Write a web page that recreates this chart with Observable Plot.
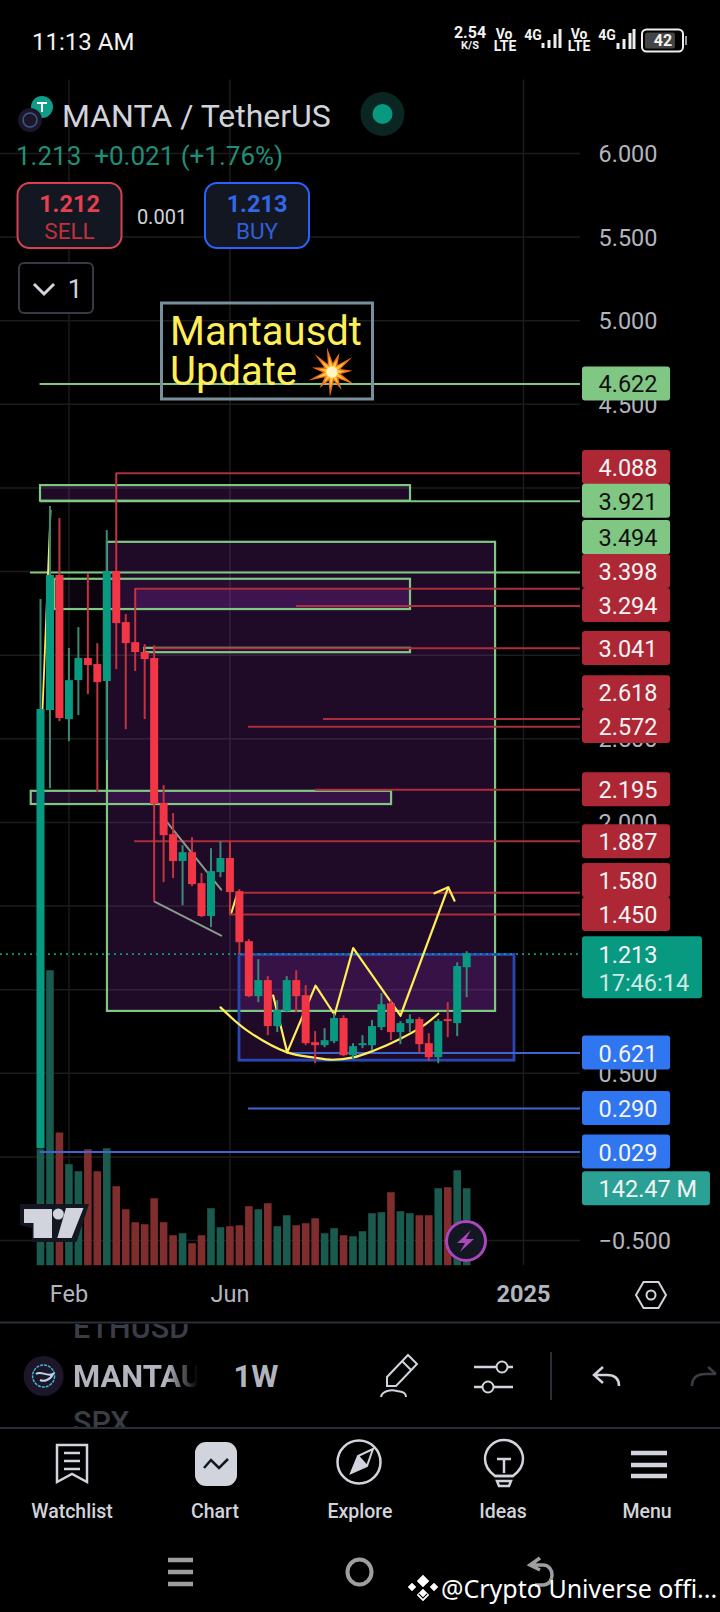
<!DOCTYPE html>
<html>
<head>
<meta charset="utf-8">
<script src="https://cdn.jsdelivr.net/npm/d3@7"></script>
<script src="https://cdn.jsdelivr.net/npm/@observablehq/plot@0.6"></script>
<style>
html,body{margin:0;padding:0;background:#000;width:720px;height:1612px;overflow:hidden;font-family:Roboto,sans-serif}
#stage{position:relative;width:720px;height:1612px;overflow:hidden;background:#000}
#stage>svg{position:absolute;left:0;top:0}
.t{position:absolute;white-space:nowrap;line-height:1;transform:translateY(-50%)}
.c{transform:translate(-50%,-50%)}
</style>
</head>
<body>
<div id="stage"></div>
<script>
// Weekly candles (index from first week, Jan 2024)
const opens  = [0.049,2.669,3.476,2.615,2.848,2.980,2.944,2.842,3.500,3.195,3.075,3.016,2.980,2.113,1.927,1.766,1.819,1.634,1.437,1.700,1.784,1.586,1.287,0.958,1.054,0.779,0.868,1.054,0.964,0.683,0.665,0.689,0.827,0.605,0.665,0.665,0.773,0.916,0.743,0.797,0.821,0.677,0.593,0.821,0.797,1.131];
const highs  = [3.333,3.889,3.817,3.040,3.165,3.488,3.069,3.745,4.088,3.243,3.398,3.063,3.057,2.220,2.053,1.861,1.909,1.694,1.843,1.885,1.885,1.598,1.299,1.179,1.078,0.934,1.078,1.113,1.024,0.749,0.767,0.856,0.844,0.677,0.725,0.815,0.976,0.934,0.809,0.850,0.833,0.737,0.821,0.923,1.161,1.227];
const lows   = [0.049,2.202,2.603,2.483,2.639,2.764,2.178,2.370,2.914,2.555,2.902,2.615,1.526,1.640,1.664,1.502,1.616,1.431,1.371,1.670,1.449,1.209,0.952,0.922,0.725,0.743,0.862,0.862,0.665,0.557,0.653,0.677,0.599,0.581,0.647,0.635,0.755,0.695,0.671,0.743,0.617,0.569,0.557,0.713,0.719,0.952];
const closes = [2.675,3.476,2.621,2.848,2.980,2.938,2.836,3.500,3.189,3.069,3.016,2.974,2.107,1.921,1.766,1.819,1.628,1.437,1.706,1.784,1.580,1.281,0.958,1.054,0.779,0.874,1.054,0.958,0.677,0.665,0.695,0.827,0.605,0.659,0.677,0.779,0.910,0.743,0.797,0.821,0.671,0.593,0.809,0.809,1.138,1.213];
// Volume in millions
const volumes = [214.6,545.8,245.4,186.9,173.9,214.6,173.9,216.5,146.2,103.6,79.6,75.9,124,79.6,55.5,59.2,40.7,55.5,105.5,70.3,72.2,74,109.2,103.6,114.7,72.2,92.5,74,77.7,87,59.2,68.5,55.5,53.7,62.9,96.2,98.1,135.1,99.9,96.2,92.5,92.5,142.47,144.3,175.8,142.47];

const priceTicks = [6,5.5,5,4.5,4,3.5,3,2.5,2,1.5,1,0.5,0,-0.5];
const timeIndex = [3,20,51];
const timeLabels = ["Feb","Jun","2025"];

// Horizontal levels drawn on the chart
const levelPrice = [4.622,4.088,3.921,3.494,3.398,3.294,3.041,2.618,2.572,2.195,1.887,1.580,1.450,0.621,0.290,0.029];
const levelStart = [-0.05,8.03,0,-1.06,10.03,27.03,11.93,29.88,21.96,29.04,9.93,21.1,19.96,26.08,21.96,0];
const levelKind  = ["g","r","g","g","r","r","r","r","r","r","r","r","r","b","b","b"];
const levelTag   = [4.622,4.122,3.921,3.703,3.500,3.297,3.040,2.776,2.573,2.196,1.885,1.652,1.449,0.621,0.290,0.029];
const lastIndexEdge = 57.02, tagLeft = 57.23, tagRight = 66.53, tagText = 58.92, tagHalf = 0.1017;

// Zones
const zoneX1 = [7.07,21.01,0,1.5,10.03,11,-0.98];
const zoneX2 = [48.05,50.05,39.07,39.07,39.07,39.07,37.07];
const zoneTop = [3.675,1.2075,4.014,3.454,3.398,3.041,2.186];
const zoneBot = [0.870,0.5753,3.921,3.273,3.273,3.015,2.107];
const zoneEdge = ["g","b","g","g","none","g","g"];
const zoneTone = ["solid","solid","solid","faint","solid","faint","solid"];

// Hand drawn lines
const rimX = [19.01,21.83,26.05,29.04,30.62,33.05,35.16,38.01,40.44,42.0];
const rimP = [0.894,0.755,0.625,0.593,0.581,0.595,0.635,0.707,0.785,0.856];
const zigX = [24.57,26.05,29.04,31.05,33.02,38.01,43.05];
const zigP = [0.964,0.625,1.024,0.850,1.249,0.844,1.612];
const headX = [41.6,43.05,43.72];
const headP = [1.576,1.612,1.532];
const spikeX = [0.21,1.06];
const spikeP = [2.669,3.865];
const stubX = [20.17,20.8];
const stubP = [1.461,1.580];
const wedgeAX = [13.38,19.08];
const wedgeAP = [2.001,1.598];
const wedgeBX = [12.04,19.08];
const wedgeBP = [1.526,1.323];

const volumeBase = -0.651, volumePerMillion = 0.003233;
const lastPrice = 1.213, lastVolume = 142.47;

const GREEN="#089981", RED="#f23645", VG="#1b5a4f", VR="#7f2d2d";
const LG="#81c784", LB="#3f66d0", LR="#ad2f3b", YEL="#ffee58", GRID="#1c1c1c", AX="#b2b5be";
const TAG={g:"#81c784",r:"#ad2734",b:"#2f76f0"}, TAGT={g:"#111",r:"#f4f4f4",b:"#f4f4f4"}, LINE={g:LG,r:LR,b:LB,none:"none"};

const candles = opens.map((o,i)=>({i,o,h:highs[i],l:lows[i],c:closes[i],v:volumes[i],up:closes[i]>=o}));
const levels = levelPrice.map((p,i)=>({p,s:levelStart[i],k:levelKind[i],tag:levelTag[i],label:d3.format(".3f")(p)}));
const zones = zoneX1.map((x1,i)=>({x1,x2:zoneX2[i],t:zoneTop[i],b:zoneBot[i],e:zoneEdge[i],tone:zoneTone[i]}));
const pts = (xs,ps)=>xs.map((x,i)=>({x,p:ps[i]}));
const F=23.5;

const chart = Plot.plot({
  width:720, height:1612, margin:0, marginRight:128,
  style:{background:"#000",fontFamily:"Roboto,sans-serif"},
  x:{type:"linear",domain:[0,51],range:[40,523],axis:null},
  y:{type:"linear",domain:[-0.5,6],range:[1240,153],axis:null},
  marks:[
    // grid
    Plot.ruleY(priceTicks,{x1:-4.223,x2:lastIndexEdge,stroke:GRID,strokeWidth:1.5}),
    Plot.ruleX(timeIndex,{y1:volumeBase,y2:6.44,stroke:GRID,strokeWidth:1.5}),
    Plot.axisY({anchor:"right",ticks:priceTicks,tickFormat:d=>d3.format(".3f")(d).replace("-","−"),tickSize:0,tickPadding:6,fontSize:F,fill:AX,label:null,dy:1}),
    // zones
    Plot.rect(zones.filter(z=>z.tone==="solid"),{x1:"x1",x2:"x2",y1:"b",y2:"t",fill:"#9b32c3",fillOpacity:.2}),
    Plot.rect(zones.filter(z=>z.tone==="faint"),{x1:"x1",x2:"x2",y1:"b",y2:"t",fill:"#9b32c3",fillOpacity:.08}),
    Plot.rect(zones.filter(z=>z.e==="g"),{x1:"x1",x2:"x2",y1:"b",y2:"t",fill:"none",stroke:LG,strokeWidth:2.2}),
    Plot.rect(zones.filter(z=>z.e==="b"),{x1:"x1",x2:"x2",y1:"b",y2:"t",fill:"none",stroke:"#2748b4",strokeWidth:2.8}),
    // volume
    Plot.ruleX(candles,{x:"i",y1:volumeBase,y2:d=>volumeBase+d.v*volumePerMillion,stroke:d=>d.up?VG:VR,strokeWidth:7.6}),
    // levels
    Plot.ruleY(levels,{y:"p",x1:"s",x2:lastIndexEdge,stroke:d=>LINE[d.k],strokeWidth:2}),
    Plot.ruleY([lastPrice],{x1:-4.223,x2:lastIndexEdge,stroke:GREEN,strokeWidth:1.8,strokeDasharray:"2 4"}),
    // wedge and hand drawn
    Plot.line(pts(wedgeAX,wedgeAP),{x:"x",y:"p",stroke:"#8a9a8a",strokeWidth:2}),
    Plot.line(pts(wedgeBX,wedgeBP),{x:"x",y:"p",stroke:"#8a9a8a",strokeWidth:2}),
    Plot.line(pts(spikeX,spikeP),{x:"x",y:"p",stroke:YEL,strokeWidth:1.8}),
    Plot.line(pts(stubX,stubP),{x:"x",y:"p",stroke:YEL,strokeWidth:2}),
    Plot.line(pts(rimX,rimP),{x:"x",y:"p",stroke:YEL,strokeWidth:2.2,curve:"catmull-rom"}),
    Plot.line(pts(zigX,zigP),{x:"x",y:"p",stroke:YEL,strokeWidth:2.2}),
    Plot.line(pts(headX,headP),{x:"x",y:"p",stroke:YEL,strokeWidth:2.2}),
    // candles
    Plot.ruleX(candles,{x:"i",y1:"l",y2:"h",stroke:d=>d.up?"#3b8a77":"#c43440",strokeWidth:2}),
    Plot.ruleX(candles,{x:"i",y1:"o",y2:"c",stroke:d=>d.up?GREEN:RED,strokeWidth:8}),
    // tags
    Plot.rect(levels,{x1:tagLeft,x2:tagRight,y1:d=>d.tag-tagHalf,y2:d=>d.tag+tagHalf,fill:d=>TAG[d.k],rx:3}),
    Plot.text(levels,{x:tagText,y:"tag",text:"label",textAnchor:"start",lineAnchor:"middle",fontSize:F,dy:1,fill:d=>TAGT[d.k]}),
    Plot.rect([lastPrice],{x1:tagLeft,x2:69.9,y1:0.946,y2:1.317,fill:GREEN,rx:3}),
    Plot.text(["1.213"],{x:tagText,y:1.209,text:d=>d,textAnchor:"start",lineAnchor:"middle",fontSize:F,dy:1,fill:"#f4f4f4"}),
    Plot.text(["17:46:14"],{x:tagText,y:1.043,text:d=>d,textAnchor:"start",lineAnchor:"middle",fontSize:F,dy:1,fill:"#cfe9e3"}),
    Plot.rect([lastVolume],{x1:tagLeft,x2:70.74,y1:-0.292,y2:-0.089,fill:"#2aa194",rx:3}),
    Plot.text([lastVolume],{x:tagText,y:-0.19,text:d=>d+" M",textAnchor:"start",lineAnchor:"middle",fontSize:F,dy:1,fill:"#f4f4f4"}),
    // time labels
    Plot.text(timeIndex.slice(0,2),{x:d=>d,y:-0.82,text:(d,i)=>timeLabels[i],textAnchor:"middle",lineAnchor:"middle",fontSize:23.5,fill:AX}),
    Plot.text(timeIndex.slice(2),{x:d=>d,y:-0.82,text:()=>timeLabels[2],textAnchor:"middle",lineAnchor:"middle",fontSize:23.5,fontWeight:700,fill:AX})
  ]
});
const stage=document.getElementById("stage");
stage.appendChild(chart);

// App chrome around the chart
function star(cx,cy,ro,ri,n,fill){let s="";for(let k=0;k<n*2;k++){const r=k%2?ri:ro*(k%4?0.82:1),a=k*Math.PI/n-0.2;s+=(cx+r*Math.sin(a)).toFixed(1)+","+(cy-r*Math.cos(a)).toFixed(1)+" ";}return `<polygon points="${s}" fill="${fill}"/>`;}
const S="#d1d4dc";
const icons=`<svg width="720" height="1612" viewBox="0 0 720 1612" fill="none">
<circle cx="42" cy="107" r="11" fill="#0f9d8a"/><path d="M37 103h10M42 103v9" stroke="#fff" stroke-width="2"/>
<circle cx="30" cy="120" r="12" fill="#1d1528"/><circle cx="30" cy="120" r="7" stroke="#3a5a8a" stroke-width="1.5"/>
<circle cx="382.5" cy="114" r="22" fill="#0a2622"/><circle cx="382.5" cy="114" r="10" fill="#089981"/>
<rect x="17.5" y="183" width="104" height="65" rx="12" fill="#131722" stroke="#d9404e" stroke-width="2"/>
<rect x="205" y="183" width="104" height="65" rx="12" fill="#131722" stroke="#2962ff" stroke-width="2"/>
<rect x="19" y="263" width="74" height="50" rx="5" fill="#000" stroke="#363a45" stroke-width="2"/>
<path d="M34 284l10 10 10-10" stroke="${S}" stroke-width="3"/>
<rect x="161.5" y="303" width="211" height="96" stroke="#78909c" stroke-width="3"/>
${star(332,372,25,9,11,"#f4711c")}${star(332,372,16,6,11,"#ffc93c")}<circle cx="332" cy="372" r="5.5" fill="#fff6c8"/>
<path d="M20 1204h69l-12.400 38H32v-14l-12-3z" fill="#131722"/>
<path d="M24 1209h28v29H33.500v-15H24z" fill="${S}"/><circle cx="58.300" cy="1214" r="5.500" fill="${S}"/><path d="M66 1208h17.500l-11.900 30H57.300z" fill="${S}"/>
<circle cx="466" cy="1241" r="21" fill="#131722"/><circle cx="466" cy="1241" r="19.500" stroke="#ab47bc" stroke-width="3"/>
<path d="M471 1230l-14 13h8l-5 9 14-13h-8z" fill="#ab47bc"/>
<path d="M636 1295l7.500-13h15l7.500 13-7.500 13h-15z" stroke="${S}" stroke-width="2"/>
<circle cx="651" cy="1295" r="4.500" stroke="${S}" stroke-width="2"/>
<path d="M0 1322.500H720M0 1428H720" stroke="#2a2e39" stroke-width="2"/>
<circle cx="43.600" cy="1376" r="20" fill="#1d1528"/><circle cx="43.600" cy="1376" r="11" stroke="#3fb6d8" stroke-width="1.500" stroke-dasharray="3 1"/><path d="M36 1374c5-4 10 3 17 0-3 6-9 8-13 6" stroke="#b9d4ea" stroke-width="2"/>
<path d="M387 1386l0-9 21-22 9 9-21 22zM402 1361l9 9" stroke="${S}" stroke-width="2"/><path d="M381 1397c1-6 10-8 16-6 5 1 9 1 9 6" stroke="${S}" stroke-width="2"/>
<path d="M474 1367h22M508 1367h5M474 1387h8M494 1387h19" stroke="${S}" stroke-width="2.500"/><circle cx="502" cy="1367" r="5.500" stroke="${S}" stroke-width="2"/><circle cx="488" cy="1387" r="5.500" stroke="${S}" stroke-width="2"/>
<path d="M551 1352v48" stroke="#2a2e39" stroke-width="2"/>
<path d="M603 1367l-9 8 9 8M595 1375h12c8 0 12 4 12 11" stroke="${S}" stroke-width="2.500"/>
<path d="M692 1386c0-9 6-12 14-12h10M708 1367l8 7" stroke="#3a3d45" stroke-width="2.500"/>
<path d="M57 1445h30v37l-15-8-15 8zM64 1453h16M64 1461h16M64 1469h16" stroke="${S}" stroke-width="2.500"/>
<rect x="195" y="1442" width="42" height="44" rx="11" fill="${S}"/><path d="M204 1468l7-8 8 8 9-9" stroke="#131722" stroke-width="2.500"/>
<circle cx="359" cy="1462" r="21.500" stroke="${S}" stroke-width="2.500"/><path d="M373 1449l-6 17-16 7 7-17zM358 1456l9 10" stroke="${S}" stroke-width="2"/><path d="M351 1473l7-17 9 10z" fill="${S}"/>
<path d="M495 1476c-4-3-10-8-10-17a19 19 0 0 1 38 0c0 9-6 14-10 17v0z" stroke="${S}" stroke-width="2.500"/><path d="M497 1459h14M504 1459v14M495 1476h18M497 1481h14l-2 5h-10z" stroke="${S}" stroke-width="2.500"/>
<path d="M631 1453h36M631 1465h36M631 1476h36" stroke="${S}" stroke-width="4.500"/>
<path d="M168 1560h25M168 1572h25M168 1584h25" stroke="#9e9e9e" stroke-width="4.500"/>
<ellipse cx="359.500" cy="1572" rx="12" ry="12.500" stroke="#9e9e9e" stroke-width="4"/>
<path d="M540 1558l-10 7 10 5M531 1565h12c12 0 12 20 0 20h-8" stroke="#9e9e9e" stroke-width="3.500"/>
<path d="M423 1577l5 5-5 5-5-5zM423 1589l5 5-5 5-5-5zM412 1583l4 4-4 4-4-4zM434 1583l4 4-4 4-4-4zM417 1581l6-6 6 6-2 2-4-4-4 4zM417 1595l6 6 6-6-2-2-4 4-4-4z" fill="#fff" stroke="#fff" stroke-width=".5"/>
<rect x="642" y="29.500" width="41" height="22" rx="4.500" stroke="#eee" stroke-width="2"/><rect x="645" y="32.500" width="30" height="16" rx="2" fill="#444"/><path d="M686 36v9" stroke="#999" stroke-width="2"/>
<path d="M543 43v5M549 40v8M555 34v14M560 29v19M618 43v6M624 39v10M630 33v16M634 29v20" stroke="#eee" stroke-width="3"/>
</svg>`;
stage.insertAdjacentHTML("beforeend",icons);

const T=(txt,x,y,size,color,opt={})=>`<div class="t${opt.c?" c":""}" style="left:${x}px;top:${y}px;font-size:${size}px;color:${color};font-weight:${opt.w||400};font-family:${opt.f||"Roboto,sans-serif"};${opt.s||""}">${txt}</div>`;
const html=[
 T("11:13 AM",32,41.500,24,"#f2f2f2"),
 T("2.54",470,33,16,"#f2f2f2",{c:1,w:700}),T("K/S",470,45,11,"#f2f2f2",{c:1,w:700}),
 T("Vo",504,34,14,"#f2f2f2",{c:1,w:700}),T("LTE",505,46,14,"#f2f2f2",{c:1,w:700}),
 T("4G",533,35,14,"#f2f2f2",{c:1,w:700}),
 T("Vo",579,34,14,"#f2f2f2",{c:1,w:700}),T("LTE",579,46,14,"#f2f2f2",{c:1,w:700}),
 T("4G",607,35,14,"#f2f2f2",{c:1,w:700}),
 T("42",663,41,16,"#f2f2f2",{c:1,w:700}),
 T("MANTA / TetherUS",62,116,32,S),
 T("1.213&nbsp; +0.021 (+1.76%)",16,156,26,"#1f8f79"),
 T("1.212",69.500,205,23.500,"#e5404e",{c:1,w:700}),T("SELL",69.500,231,22.500,"#c2303c",{c:1}),
 T("0.001",162,217,20,S,{c:1}),
 T("1.213",257,205,23.500,"#3268e8",{c:1,w:700}),T("BUY",257,231,22.500,"#2f5fd8",{c:1}),
 T("1",75,289,26,S,{c:1}),
 T("Mantausdt",170,332,40,YEL),T("Update",170,372,40,YEL),
 `<div style="position:absolute;left:73px;top:1324px;width:125px;height:103px;overflow:hidden">`
  +`<div class="t" style="left:0;top:4px;font-size:30.500px;color:#3a3d45;font-weight:500">ETHUSD</div>`
  +`<div class="t" style="left:0;top:52px;font-size:31px;color:#b2b5be;font-weight:700;-webkit-mask-image:linear-gradient(90deg,#000 75%,transparent 100%);mask-image:linear-gradient(90deg,#000 75%,transparent 100%);width:125px;overflow:hidden">MANTAUSD</div>`
  +`<div class="t" style="left:0;top:99px;font-size:30.500px;color:#3a3d45;font-weight:500">SPX</div></div>`,
 T("1W",256,1376,31,"#b2b5be",{c:1,w:700}),
 T("Watchlist",72,1512,19.500,S,{c:1,w:500}),T("Chart",215,1512,19.500,S,{c:1,w:500}),T("Explore",360,1512,19.500,S,{c:1,w:500}),T("Ideas",503,1512,19.500,S,{c:1,w:500}),T("Menu",647,1512,19.500,S,{c:1,w:500}),
 T("@Crypto Universe offi...",441,1588,25,"#fff",{w:400,f:"'Noto Sans',sans-serif"})
].join("");
stage.insertAdjacentHTML("beforeend",html);
</script>
</body>
</html>
